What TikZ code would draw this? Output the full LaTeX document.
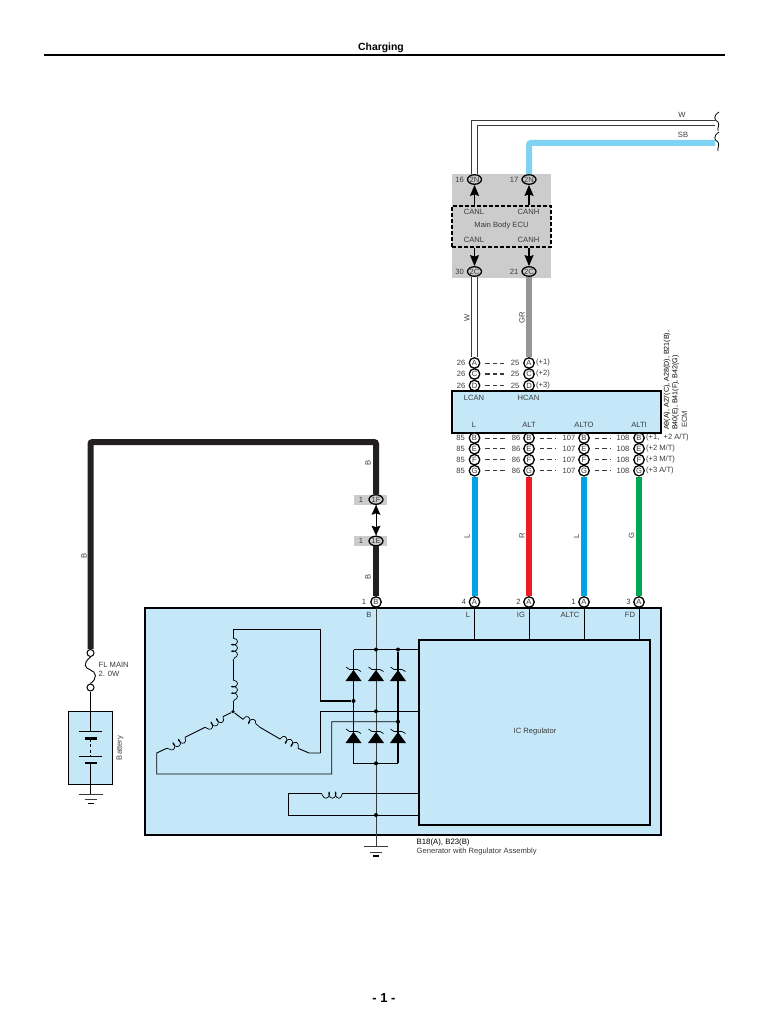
\documentclass[tikz,border=0pt]{standalone}
\usepackage{fontspec}
\setmainfont{Liberation Sans}
\usepackage{tikz}
\usetikzlibrary{shapes.geometric,arrows.meta,calc,positioning,decorations.pathmorphing}
\definecolor{panel}{HTML}{C5E8F9}
\definecolor{ink}{HTML}{3A3A3A}
\definecolor{wireL}{HTML}{00A4E4}
\definecolor{wireR}{HTML}{ED1C24}
\definecolor{wireG}{HTML}{00A651}
\definecolor{wireSB}{HTML}{7FD3F2}
\definecolor{wireGR}{HTML}{96969A}
\definecolor{wireB}{HTML}{231F20}
\tikzstyle{lab} = [font=\fontsize{7.6}{8.6}\selectfont, text=ink, inner sep=0pt]
\tikzstyle{wlab} = [lab, rotate=90]
\tikzstyle{cpin} = [circle, draw=black, line width=1.3pt, fill=white, minimum size=10.5pt, inner sep=0pt, lab]
\tikzstyle{oval} = [ellipse, draw=black, line width=1.3pt, minimum width=14pt, minimum height=9.5pt, inner sep=0pt, lab]
\tikzstyle{box} = [rectangle, draw=black, line width=1.2pt, fill=panel, inner sep=0pt]
\tikzstyle{line} = [draw=black, line width=.9pt]
\tikzstyle{heavy} = [draw=black, line width=1.3pt]
\tikzstyle{fat} = [draw, line width=6pt, rounded corners=2pt]
\tikzstyle{whitew} = [draw=ink, line width=.8pt, double=white, double distance=4.6pt]
\tikzstyle{gap} = [draw=ink, line width=.9pt, dash pattern=on 4.5pt off 3pt, shorten >=6.5pt, shorten <=5pt]
\tikzstyle{plug} = [draw=black, line width=1.2pt, -{Stealth[width=9pt,length=11pt,inset=1.5pt]}]
\tikzstyle{head} = [draw=black, line width=0pt, -{Stealth[width=9pt,length=10pt,inset=1.5pt]}]
\tikzstyle{dot} = [circle, fill=black, minimum size=4pt, inner sep=0pt]
\tikzstyle{coilw} = [draw=black, line width=.7pt, decorate, decoration={coil, aspect=.6, segment length=6.5pt, amplitude=3pt, raise=1.5pt}]
\tikzset{
  zener/.pic={
    \fill [black] (-8,0) -- (8,0) -- (0,-11) -- cycle;
    \draw [black, line width=.7pt] (-7.5,-14) -- (-4,-11.5) -- (4,-11.5) -- (7.5,-9.5);
  },
  wavy/.pic={
    \draw [black, line width=.8pt] (3,-10) .. controls (-3,-6) and (-2,-2) .. (2,0) .. controls (4,3) and (1,6) .. (2,9);
  },
  earth/.pic={
    \draw [ink, line width=.8pt] (-12,0) -- (12,0) (-6,5.5) -- (6,5.5);
    \draw [black, line width=1.2pt] (-3,9.5) -- (3,9.5);
  }
}
\begin{document}
\begin{tikzpicture}[x=1pt, y=-1pt]
    \useasboundingbox (0,0) rectangle (768,1024);
    % Heading
    \node [font=\fontsize{10.4}{11}\selectfont\bfseries, inner sep=0pt] (title) at (381,48) {Charging};
    \coordinate (ruleL) at (44,55);
    \coordinate (ruleR) at (725,55);
    \path [draw=black, line width=1.3pt] (ruleL) -- (ruleR);
    \node [font=\fontsize{13}{14}\selectfont\bfseries, inner sep=0pt] (page) at (384,998) {- 1 -};

    % Place panels
    \node [rectangle, fill=black!20, minimum width=99pt, minimum height=104pt, inner sep=0pt] (grey) at (501.5,226) {};
    \node [rectangle, fill=black!20, minimum width=33pt, minimum height=10pt, inner sep=0pt] (greyF) at (370.5,500) {};
    \node [rectangle, fill=black!20, minimum width=33pt, minimum height=10pt, inner sep=0pt] (greyE) at (370.5,541) {};
    \node [rectangle, draw=black, line width=1.2pt, dash pattern=on 4pt off 2pt, minimum width=99pt, minimum height=41pt, inner sep=0pt] (mbecu) at (501.5,226.5) {};
    \node [box, minimum width=209pt, minimum height=42pt] (ecm) at (556.5,412) {};
    \node [box, minimum width=516pt, minimum height=227pt] (gen) at (403,721.5) {};
    \node [box, minimum width=231pt, minimum height=185pt] (ic) at (534.5,732.5) {};
    \node [lab] (iclab) at (535,732) {IC Regulator};
    \node [box, minimum width=44.5pt, minimum height=72.5pt] (batt) at (90.5,748) {};

    % Main Body ECU
    \node [oval] (n2N1) at (474.5,179.5) {2N};
    \node [oval] (n2N2) at (529,179.5) {2N};
    \node [oval] (n2C1) at (474.5,271.5) {2C};
    \node [oval] (n2C2) at (529,271.5) {2C};
    \node [lab, left of=n2N1, node distance=15pt] {16};
    \node [lab, left of=n2N2, node distance=15pt] {17};
    \node [lab, left of=n2C1, node distance=15pt] {30};
    \node [lab, left of=n2C2, node distance=15pt] {21};
    \node [lab] (canl1) at (474,211.5) {CANL};
    \node [lab] (canh1) at (528.5,211.5) {CANH};
    \node [lab] at (501.5,226) {Main Body ECU};
    \node [lab] (canl2) at (474,239.5) {CANL};
    \node [lab] (canh2) at (528.5,239.5) {CANH};
    \path [plug] (n2N1 |- mbecu.north) -- (n2N1.south);
    \path [plug] (n2N2 |- mbecu.north) -- (n2N2.south);
    \path [plug] (n2C1 |- mbecu.south) -- (n2C1.north);
    \path [plug] (n2C2 |- mbecu.south) -- (n2C2.north);

    % Top wires
    \coordinate (endW) at (715,123);
    \coordinate (endSB) at (715,143);
    \path [whitew] (endW) -| (n2N1.north);
    \path [fat, draw=wireSB] (endSB) -| (n2N2.north);
    \pic at (716,122) {wavy};
    \pic at (716,142) {wavy};
    \node [lab] at (682,115) {W};
    \node [lab] at (683,135) {SB};

    % ECM connectors
    \foreach \r/\y in {A/363,C/374,D/385.5} {
        \node [cpin] (p1\r) at (474.5,\y) {\r};
        \node [cpin] (p2\r) at (529,\y) {\r};
        \node [lab, left of=p1\r, node distance=13.5pt] {26};
        \node [lab, left of=p2\r, node distance=14pt] (t2\r) {25};
        \path [gap] (p1\r) -- (t2\r);
    }
    \path [gap, line width=1.4pt] (p1C) -- (t2C);
    \node [lab, right=1pt of p2A] {(+1)};
    \node [lab, right=1pt of p2C] {(+2)};
    \node [lab, right=1pt of p2D] {(+3)};
    \foreach \r/\y/\s in {B/438/{(+1,\ \ +2 A/T)},E/448.7/{(+2 M/T)},F/459.7/{(+3 M/T)},G/470.7/{(+3 A/T)}} {
        \node [cpin] (q1\r) at (474.5,\y) {\r};
        \node [cpin] (q2\r) at (529,\y) {\r};
        \node [cpin] (q3\r) at (584,\y) {\r};
        \node [cpin] (q4\r) at (639,\y) {\r};
        \node [lab, left of=q1\r, node distance=14pt] {85};
        \node [lab, left of=q2\r, node distance=13pt] (u2\r) {86};
        \node [lab, left of=q3\r, node distance=15pt] (u3\r) {107};
        \node [lab, left of=q4\r, node distance=16pt] (u4\r) {108};
        \node [lab, right=1pt of q4\r] {\s};
        \path [gap] (q1\r) -- (u2\r);
        \path [gap] (q2\r) -- (u3\r);
        \path [gap] (q3\r) -- (u4\r);
    }
    \node [lab] at (474,398) {LCAN};
    \node [lab] at (528.5,398) {HCAN};
    \node [lab] at (474,425) {L};
    \node [lab] at (529,425) {ALT};
    \node [lab] at (584,425) {ALTO};
    \node [lab] at (639,425) {ALTI};
    \node [lab, rotate=90, anchor=west, text=black, font=\fontsize{7.1}{8}\selectfont] (ecmA) at (667,430) {A9(A), A27(C), A28(D), B21(B),};
    \node [lab, rotate=90, anchor=west, text=black, font=\fontsize{7.1}{8}\selectfont] (ecmB) at (675.5,430) {B40(E), B41(F), B42(G)};
    \node [lab, rotate=90, anchor=west] (ecmC) at (684.5,428) {ECM};

    % Generator connectors
    \node [cpin] (gB) at (376,602) {B};
    \node [cpin] (gL) at (474.5,602) {A};
    \node [cpin] (gG) at (529,602) {A};
    \node [cpin] (gC) at (584,602) {A};
    \node [cpin] (gD) at (639,602) {A};
    \node [lab, left of=gB, node distance=12pt] {1};
    \node [lab, left of=gL, node distance=10.5pt] {4};
    \node [lab, left of=gG, node distance=10.5pt] {2};
    \node [lab, left of=gC, node distance=10.5pt] {1};
    \node [lab, left of=gD, node distance=10.5pt] {3};
    \node [lab] at (369,615) {B};
    \node [lab] at (468,615) {L};
    \node [lab] at (521,615) {IG};
    \node [lab] at (570,615) {ALTC};
    \node [lab] at (630,615) {FD};

    % Coloured wires
    \path [whitew] (n2C1.south) -- (p1A.north);
    \path [draw=wireGR, line width=6pt] (n2C2.south) -- (p2A.north);
    \path [draw=wireL, line width=6pt] (q1G.south) -- (gL.north);
    \path [draw=wireR, line width=6pt] (q2G.south) -- (gG.north);
    \path [draw=wireL, line width=6pt] (q3G.south) -- (gC.north);
    \path [draw=wireG, line width=6pt] (q4G.south) -- (gD.north);
    \node [wlab] at (467,318) {W};
    \node [wlab] at (522,318) {GR};
    \node [wlab] at (467,536) {L};
    \node [wlab] at (522,536) {R};
    \node [wlab] at (576.5,536) {L};
    \node [wlab] at (631.5,536) {G};

    % Battery lead
    \node [oval, minimum width=14pt] (n1F) at (376,499.5) {1F};
    \node [oval, minimum width=14pt] (n1E) at (376,541) {1E};
    \node [lab, left of=n1F, node distance=15pt] {1};
    \node [lab, left of=n1E, node distance=15pt] {1};
    \node [circle, draw=black, line width=1pt, fill=white, minimum size=7pt, inner sep=0pt] (fuseT) at (90.5,653) {};
    \node [circle, draw=black, line width=1pt, fill=white, minimum size=7pt, inner sep=0pt] (fuseB) at (90.5,687.5) {};
    \path [fat, draw=wireB] (fuseT.north) |- (376,442) -- (n1F.north);
    \path [draw=wireB, line width=6pt] (n1E.south) -- (gB.north);
    \coordinate (midFE) at (376,520);
    \path [draw=wireGR!70!black, line width=1pt] (n1F.south) -- (n1E.north);
    \path [head] (midFE) -- (n1F.south);
    \path [head] (midFE) -- (n1E.north);
    \node [wlab] at (368,463) {B};
    \node [wlab] at (368,577) {B};
    \node [wlab] at (84,556) {B};
    \path [draw=black, line width=.9pt] (fuseT.south) .. controls (82,664) and (85,668) .. (90.5,670) .. controls (96,672) and (98,678) .. (fuseB.north);
    \node [lab, align=left, anchor=north west] at (98.5,662) {FL MAIN\\2. 0W};

    % Battery
    \coordinate (plateA) at (90.5,731.7);
    \coordinate (plateB) at (90.5,738.5);
    \coordinate (plateC) at (90.5,756.7);
    \coordinate (plateD) at (90.5,762.7);
    \coordinate (gndB) at (90.5,794);
    \path [line] (fuseB.south) -- (plateA);
    \path [draw=black, line width=.9pt] (plateC) ++(-11.5,0) -- ++(23,0);
    \path [draw=black, line width=.9pt] (plateA) ++(-11.5,0) -- ++(23,0);
    \path [draw=black, line width=2.2pt] (plateB) ++(-6,0) -- ++(12,0);
    \path [draw=black, line width=2.2pt] (plateD) ++(-6,0) -- ++(12,0);
    \path [draw=black, line width=.9pt, dash pattern=on 3pt off 2.5pt] (plateB) -- (plateC);
    \path [line] (plateD) -- (gndB);
    \pic at (gndB) {earth};
    \node [wlab] at (120,748) {Battery};

    % Generator wiring
    \coordinate (gndG) at (376,846.5);
    \path [draw=ink, line width=.9pt] (gB.south) -- (gndG);
    \pic at (gndG) {earth};
    \path [heavy] (gL.south) -- (gL |- ic.north);
    \path [line] (gG.south) -- (gG |- ic.north);
    \path [line] (gC.south) -- (gC |- ic.north);
    \path [line] (gD.south) -- (gD |- ic.north);
    \coordinate (colA) at (353.5,649.5);
    \coordinate (colAb) at (353.5,763.3);
    \node [dot] (topB) at (376,649.5) {};
    \node [dot] (topC) at (398,649.5) {};
    \node [dot] (botB) at (376,763.3) {};
    \coordinate (colCb) at (398,763.3);
    \node [dot] (midA) at (353.5,701) {};
    \node [dot] (midB) at (376,711.3) {};
    \node [dot] (midC) at (398,721.7) {};
    \path [line] (colA) -- (ic.west |- colA);
    \path [line] (colA) -- (colAb) -- (colCb);
    \path [heavy] (topC) -- (colCb);
    \foreach \x in {353.5,376,398} {
        \pic at (\x,681) {zener};
        \pic at (\x,743) {zener};
    }
    % Stator
    \node [dot, minimum size=3.5pt] (star) at (233,711.7) {};
    \coordinate (c1a) at (233,638);
    \coordinate (c1b) at (233,661);
    \coordinate (c2a) at (233,680);
    \coordinate (c2b) at (233,702);
    \coordinate (topA) at (233,629);
    \coordinate (kneeA) at (320.7,629);
    \path [line] (star) -- (c2b);
    \path [coilw] (c2a) -- (c2b);
    \path [line] (c1b) -- (c2a);
    \path [coilw] (c1a) -- (c1b);
    \path [line] (c1a) -- (topA) -- (kneeA);
    \path [heavy] (kneeA) |- (midA);
    \coordinate (kneeB) at (320.7,753);
    \coordinate (r1a) at (243,719.3);
    \coordinate (r1b) at (260,727.3);
    \coordinate (r2a) at (280,739);
    \coordinate (r2b) at (298,748.3);
    \coordinate (kneeR) at (309,753);
    \path [line] (star) -- (r1a);
    \path [coilw] (r1a) -- (r1b);
    \path [line] (r1b) -- (r2a);
    \path [coilw] (r2a) -- (r2b);
    \path [line] (r2b) -- (kneeR) -- (kneeB);
    \path [heavy] (kneeB) |- (ic.west |- midB);
    \coordinate (l1a) at (223,716.7);
    \coordinate (l1b) at (205,727.3);
    \coordinate (l2a) at (185,737.3);
    \coordinate (l2b) at (166.7,748.3);
    \coordinate (kneeL) at (156.7,753);
    \coordinate (lowL) at (156.7,774);
    \coordinate (lowR) at (331.7,774);
    \path [line] (star) -- (l1a);
    \path [coilw] (l1a) -- (l1b);
    \path [line] (l1b) -- (l2a);
    \path [coilw] (l2a) -- (l2b);
    \path [line] (l2b) -- (kneeL) -- (lowL) -- (lowR) |- (midC);
    % Field coil
    \coordinate (fa) at (321.7,793.7);
    \coordinate (fb) at (342.3,793.7);
    \coordinate (fl) at (288.3,793.7);
    \coordinate (fd) at (288.3,815);
    \node [dot] (fdot) at (376,815) {};
    \path [line] (ic.west |- fa) -- (fb);
    \path [coilw] (fb) -- (fa);
    \path [line] (fa) -- (fl) -- (fd) -- (ic.west |- fd);

    % Caption
    \node [lab, anchor=west, text=black, font=\fontsize{7.8}{9}\selectfont] at (416.5,842) {B18(A), B23(B)};
    \node [lab, anchor=west] at (416.5,851.5) {Generator with Regulator Assembly};
\end{tikzpicture}
\end{document}
